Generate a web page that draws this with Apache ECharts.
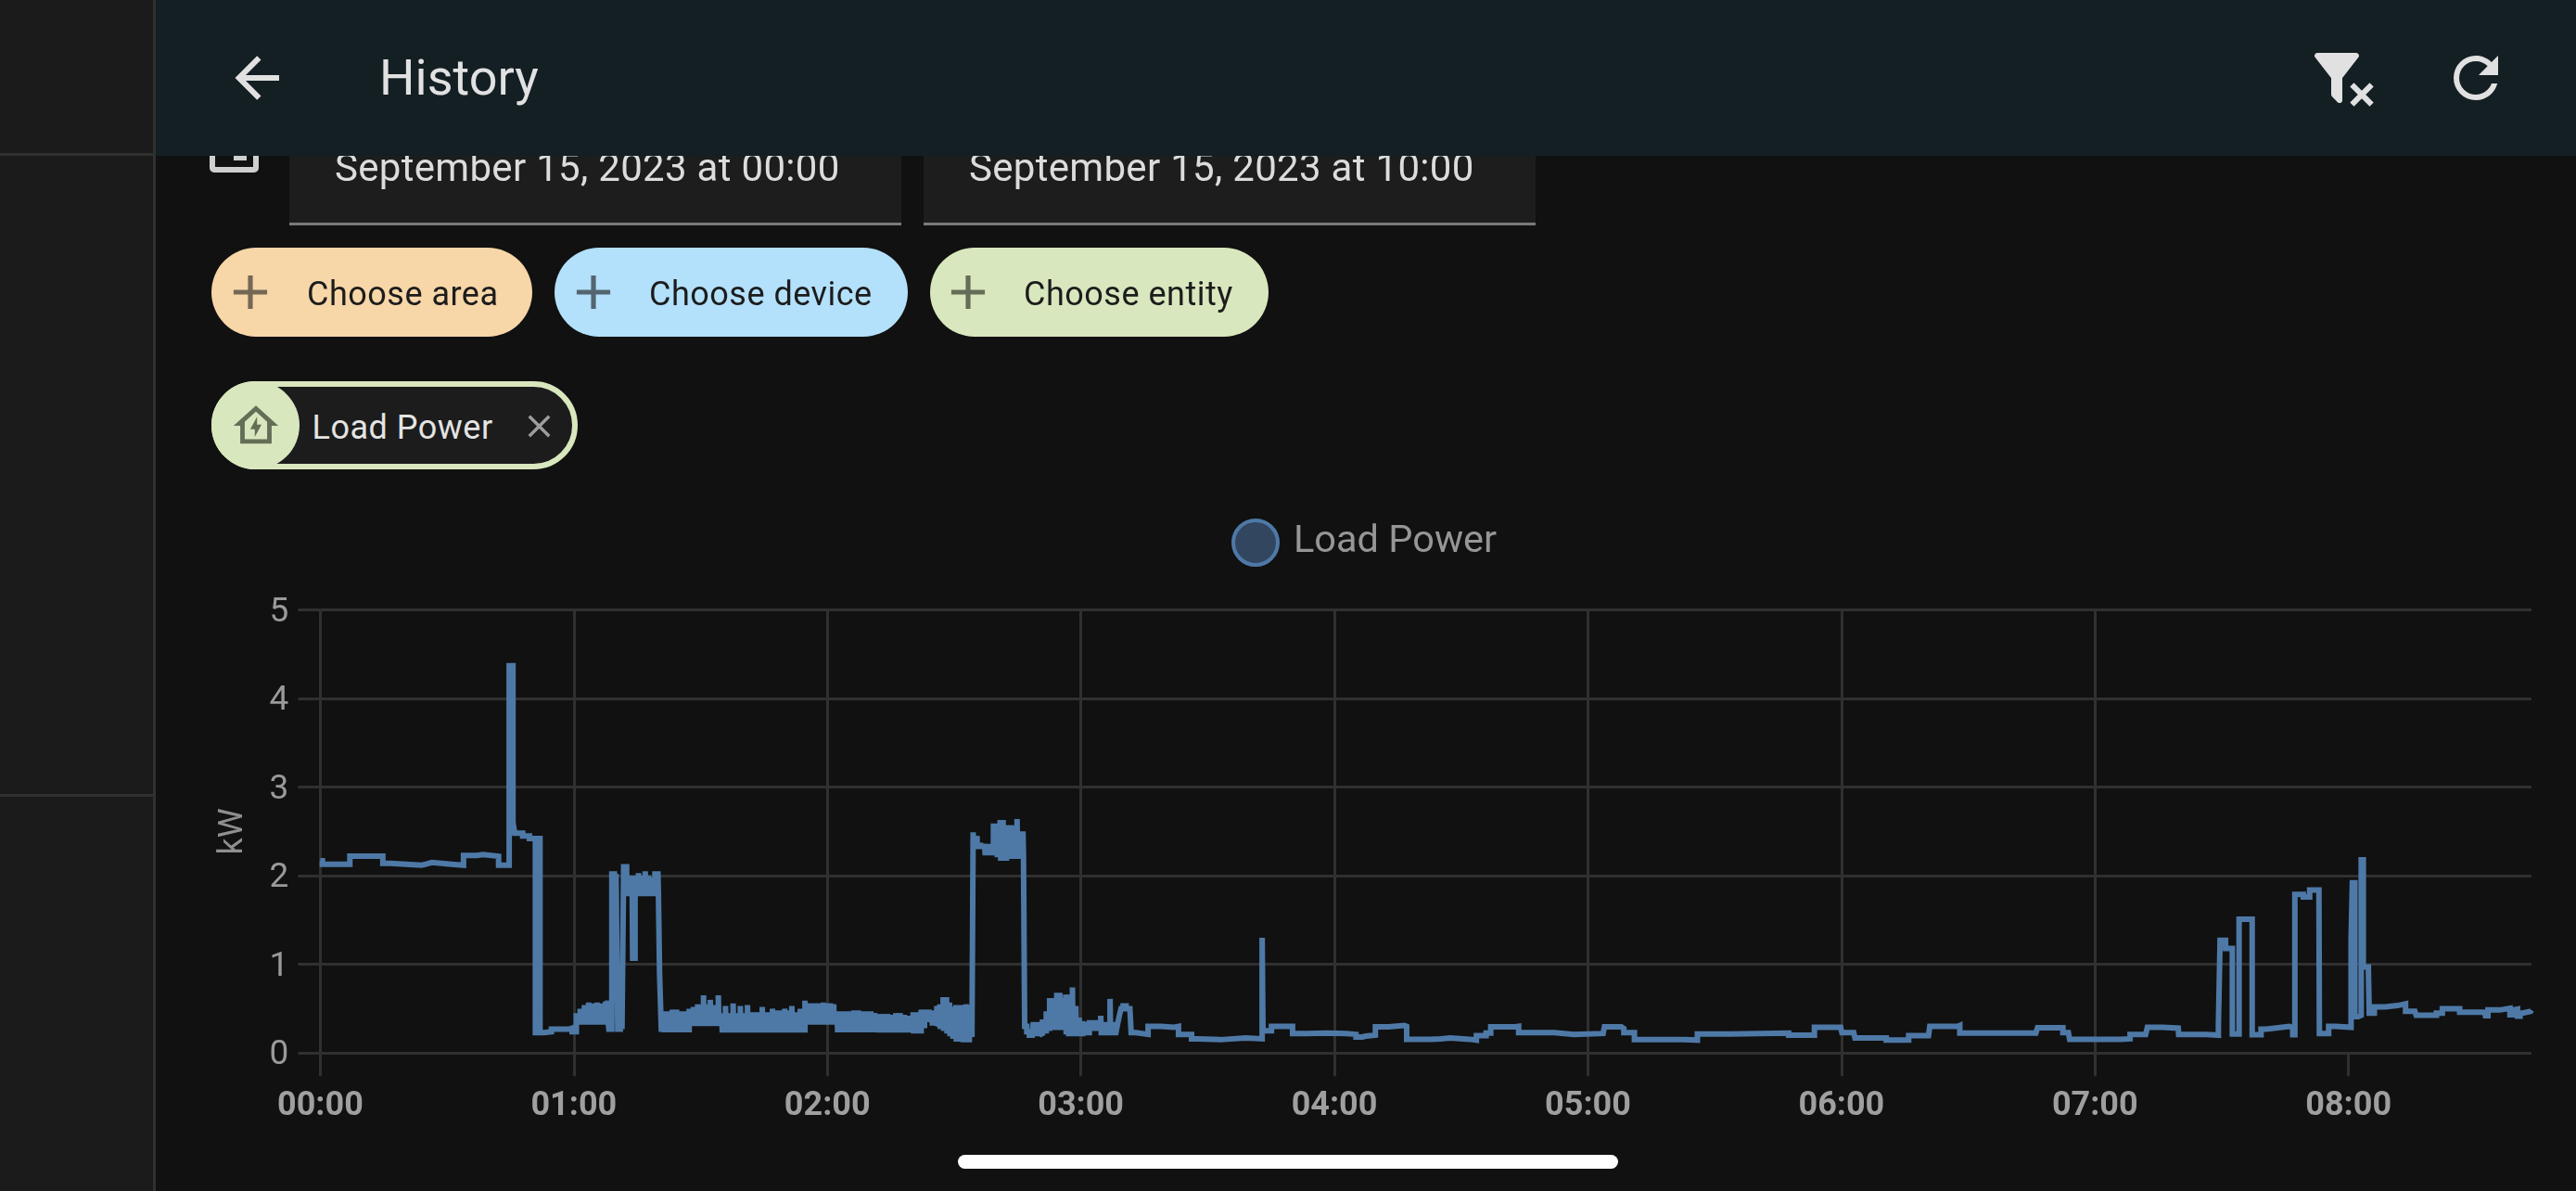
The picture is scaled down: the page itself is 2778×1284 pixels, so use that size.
<!DOCTYPE html>
<html>
<head>
<meta charset="utf-8">
<title>History</title>
<script src="https://cdn.jsdelivr.net/npm/echarts@6/dist/echarts.min.js"></script>
<style>
  html, body { margin: 0; width: 2778px; height: 1284px; overflow: hidden; background: #111111; font-family: Roboto, sans-serif; }
  div, span, svg { position: absolute; }
  span { white-space: nowrap; }
  #chart { left: 0; top: 0; width: 2778px; height: 1284px; }
  #side { left: 0; top: 0; width: 165px; height: 1284px; background: #1b1b1b; border-right: 3px solid #303030; }
  .rule { left: 0; width: 165px; height: 3px; background: #303030; }
  #bar { left: 168px; top: 0; width: 2610px; height: 168px; background: #141f24; }
  .field { top: 100px; height: 140px; background: #1d1d1d; border-bottom: 3px solid #7a7a7a; }
  .date { top: 160px; font-size: 42px; line-height: 42px; color: #dcdcdc; letter-spacing: 0.3px; }
  .chip { top: 267px; height: 96px; border-radius: 48px; }
  .chiptext { top: 298.7px; font-size: 36px; line-height: 36px; color: #1c1c1c; letter-spacing: 0.5px; }
  #bottombar { left: 1033px; top: 1245px; width: 712px; height: 15px; border-radius: 8px; background: #ffffff; }
</style>
</head>
<body>
<div id="chart"></div>

<div id="cal" style="left:226px;top:120px;width:41px;height:54px;border:6px solid #cfcfcf;border-radius:5px"></div>
<div style="left:252px;top:160px;width:14px;height:13px;background:#cfcfcf"></div>
<div class="field" style="left:312px;width:660px"></div>
<div class="field" style="left:996px;width:660px"></div>
<span class="date" style="left:361px">September 15, 2023 at 00:00</span>
<span class="date" style="left:1045px">September 15, 2023 at 10:00</span>

<div id="bar"></div>
<div id="side"></div>
<div class="rule" style="top:165px"></div>
<div class="rule" style="top:856px"></div>
<svg style="left:240.5px;top:48px" width="72" height="72" viewBox="0 0 24 24"><path fill="#e1e1e1" d="M20,11V13H8L13.5,18.5L12.08,19.92L4.16,12L12.08,4.08L13.5,5.5L8,11H20Z"/></svg>
<span style="left:409px;top:57px;font-size:54px;line-height:54px;color:#e1e1e1">History</span>
<svg style="left:2490px;top:48px" width="72" height="72" viewBox="0 0 24 24"><path fill="#e1e1e1" d="M14.76,20.83L17.6,18L14.76,15.17L16.17,13.76L19,16.57L21.83,13.76L23.24,15.17L20.41,18L23.24,20.83L21.83,22.24L19,19.41L16.17,22.24L14.76,20.83M12,12V19.88C12.04,20.18 11.94,20.5 11.71,20.71C11.32,21.1 10.69,21.1 10.3,20.71L8.29,18.7C8.06,18.47 7.96,18.16 8,17.87V12H7.97L2.21,4.62C1.87,4.19 1.95,3.56 2.38,3.22C2.57,3.08 2.78,3 3,3V3H17V3C17.22,3 17.43,3.08 17.62,3.22C18.05,3.56 18.13,4.19 17.79,4.62L12.03,12H12Z"/></svg>
<svg style="left:2634px;top:48px" width="72" height="72" viewBox="0 0 24 24"><path fill="#e1e1e1" d="M17.65,6.35C16.2,4.9 14.21,4 12,4A8,8 0 0,0 4,12A8,8 0 0,0 12,20C15.73,20 18.84,17.45 19.73,14H17.65C16.83,16.33 14.61,18 12,18A6,6 0 0,1 6,12A6,6 0 0,1 12,6C13.66,6 15.14,6.69 16.22,7.78L13,11H20V4L17.65,6.35Z"/></svg>

<div class="chip" style="left:228px;width:346px;background:#f7d6a8"></div>
<div class="chip" style="left:598px;width:381px;background:#b3e0fb"></div>
<div class="chip" style="left:1003px;width:365px;background:#d8e7bd"></div>
<svg style="left:239px;top:284px" width="62" height="62" viewBox="0 0 24 24"><path fill="#746855" d="M19,13H13V19H11V13H5V11H11V5H13V11H19V13Z"/></svg>
<svg style="left:609px;top:284px" width="62" height="62" viewBox="0 0 24 24"><path fill="#55656f" d="M19,13H13V19H11V13H5V11H11V5H13V11H19V13Z"/></svg>
<svg style="left:1013px;top:284px" width="62" height="62" viewBox="0 0 24 24"><path fill="#646d58" d="M19,13H13V19H11V13H5V11H11V5H13V11H19V13Z"/></svg>
<span class="chiptext" style="left:331px">Choose area</span>
<span class="chiptext" style="left:700px">Choose device</span>
<span class="chiptext" style="left:1104px">Choose entity</span>

<div style="left:228px;top:411px;width:383px;height:83px;border:6px solid #d8e7bd;border-radius:48px;background:#1c1c1c"></div>
<div style="left:228px;top:411px;width:95px;height:95px;border-radius:48px;background:#d8e7bd"></div>
<svg style="left:247px;top:430px" width="58" height="58" viewBox="0 0 24 24"><path fill="#636e57" fill-rule="evenodd" d="M12 3L2 12H5V20H19V12H22L12 3M7 18V10.19L12 5.69L17 10.19V18H7ZM12.5 8L9.5 13.5H11.5V17L14.5 11.5H12.5V8Z"/></svg>
<span style="left:336.5px;top:442.7px;font-size:36px;line-height:36px;color:#e4e4e4;letter-spacing:0.5px">Load Power</span>
<svg style="left:561px;top:439px" width="41" height="41" viewBox="0 0 24 24"><path fill="#9d9d9d" d="M19,6.41L17.59,5L12,10.59L6.41,5L5,6.41L10.59,12L5,17.59L6.41,19L12,13.41L17.59,19L19,17.59L13.41,12L19,6.41Z"/></svg>

<div id="bottombar"></div>

<script>
const seriesName = 'Load Power';
const unit = 'kW';
const hourTicks = [0, 60, 120, 180, 240, 300, 360, 420, 480];
const hourLabels = ['00:00', '01:00', '02:00', '03:00', '04:00', '05:00', '06:00', '07:00', '08:00'];
const lastMinute = 523.3;

// stretches where the line is calm
const steadyMin = [
  0, 0.5, 7, 14.8, 16.5, 24, 25, 26.4, 31, 33.9, 37, 38.5, 42.2, 44.7, 45.6, 46, 47.9, 49.5,
  50.9, 51.4, 52, 53, 54.7, 59, 59.6,
  68.3, 69, 69.6, 70, 70.4, 71, 71.4, 71.8,
  80.3, 80.7,
  145.4,
  166.7, 167.2, 167.8, 168.5, 168.7, 169.8, 170.3,
  188.3, 188.7, 189.1, 189.5, 190, 190.7, 191.6, 191.9, 193, 195.9, 199, 202, 203.1, 206.2, 207.7,
  213, 219, 222.9, 223.1, 225.1, 228.9, 230.1, 233.5, 238.2, 242.8, 245.1, 246.6, 247.4, 249.7,
  252.8, 256.6, 257.1, 262.8, 265.1, 267.4, 272, 273.6, 275.9, 277, 282.8, 283.6, 292, 296.7,
  303.6, 303.9, 307.9, 308.5, 310.5, 311, 322.8, 325.9, 333.6, 347.5, 352.9, 353.6, 359.8, 360.1,
  362.9, 363.2, 370.6, 375.9, 380.6, 380.9, 387.5, 388, 406, 406.4, 411.8, 412.4, 413.7, 414,
  426, 428.3, 432, 432.4, 436, 436.4, 439.7, 439.8, 446.3, 446.7, 449.2, 449.6, 450.9, 452.5,
  454.1, 455, 457.2, 459.3, 460.5, 462.4, 466, 466.8, 467.3, 469.3, 470.8, 473, 473.1, 475.3,
  477, 480.6, 480.9, 481.5, 482.3, 483, 483.5, 484.7, 484.9, 486.1, 488.7, 491.6, 493.5, 495.7,
  496, 500.8, 502.2, 506.3, 510.7, 512.1, 512.4, 513, 515.8, 518.2, 518.8, 519.4, 520, 520.6,
  521.2, 521.6, 523.1, 523.3
];
const steadyKw = [
  2.17, 2.13, 2.22, 2.14, 2.12, 2.13, 2.15, 2.13, 2.12, 2.23, 2.24, 2.22, 2.12, 4.37, 2.6, 2.48, 2.45, 2.42,
  0.23, 2.42, 0.23, 0.24, 0.27, 0.28, 0.24,
  0.27, 2.02, 1.8, 2.02, 0.27, 0.48, 0.27, 2.1,
  0.89, 0.27,
  0.33,
  0.3, 0.24, 0.2, 0.22, 0.32, 0.22, 0.2,
  0.25, 0.33, 0.42, 0.5, 0.53, 0.5, 0.49, 0.23, 0.21, 0.3, 0.29, 0.3, 0.21, 0.16, 0.15,
  0.17, 0.16, 1.3, 0.25, 0.3, 0.3, 0.22, 0.225, 0.22, 0.21, 0.18, 0.19, 0.2, 0.295,
  0.31, 0.3, 0.155, 0.16, 0.17, 0.155, 0.145, 0.195, 0.225, 0.295, 0.3, 0.23, 0.21, 0.22,
  0.2, 0.295, 0.275, 0.23, 0.23, 0.15, 0.145, 0.215, 0.225, 0.2, 0.2, 0.29, 0.28, 0.23,
  0.23, 0.17, 0.145, 0.195, 0.215, 0.3, 0.31, 0.225, 0.215, 0.285, 0.285, 0.23, 0.23, 0.155,
  0.16, 0.21, 0.215, 0.29, 0.29, 0.28, 0.28, 0.21, 0.215, 0.2, 0.3, 1.27, 1.18, 0.215,
  1.51, 1.51, 0.205, 0.27, 0.28, 0.3, 0.285, 0.205, 1.79, 1.76, 1.84, 1.85, 0.22, 0.3,
  0.29, 1.27, 1.92, 0.41, 0.425, 2.18, 0.97, 0.94, 0.45, 0.52, 0.535, 0.555, 0.47, 0.47,
  0.425, 0.45, 0.5, 0.46, 0.46, 0.485, 0.42, 0.485, 0.505, 0.43, 0.49, 0.495, 0.415, 0.45,
  0.45, 0.47, 0.485, 0.49
];

// noisy stretches: each reading swings from a high to a low value right away
const burstMin = [
  60.6, 61.5, 62.5, 63.5, 64.5, 65.5, 66.5, 67.5, 68,
  72.5, 73.2, 73.8, 74.5, 75.3, 76.1, 76.9, 77.7, 78.5, 79.2, 79.9,
  81.3, 82.3, 83.3, 84.3, 85.3, 86.3, 87.3, 88.3, 89.3, 90, 90.7, 91.5, 92.3, 93.2, 94.2,
  95, 95.9, 96.8, 97.7, 98.6, 99.4, 100.3, 101.1, 102, 103, 103.8, 104.6, 105.5, 106.3, 107, 108, 109, 109.9, 110.8, 111.6, 112.5, 113.6,
  114.7, 115.5, 116.4, 117.3, 118.2, 119, 119.8, 120.7, 121.5,
  122.3, 123.3, 124.3, 125.3, 126.3, 127.3, 128.3, 129.3, 130.3, 131.2, 132.2, 133.2, 134.2, 135.2, 136.2, 137.2, 138.2, 139.2, 140.3, 141.1,
  142.2, 143, 144, 144.7,
  145.9, 146.6, 147.4, 148.2, 148.9, 149.6, 150.4, 151.2, 152, 152.8, 153.6, 154.1,
  154.5, 155.4, 156.2, 157.2, 158.2, 159.3, 160.1, 160.9, 161.6, 162.4, 163.2, 164.1, 164.9, 165.6, 166.3,
  170.9, 171.8, 172.6, 173.4, 174.3, 175, 175.8, 176.4, 177, 178, 178.8, 179.6, 180.4, 181.2, 182, 182.9, 183.8, 184.7, 185.7, 186.9, 187.7
];
const burstHigh = [
  0.45, 0.5, 0.54, 0.57, 0.56, 0.57, 0.56, 0.58, 0.59,
  2.06, 2, 2, 2, 2.03, 2, 2.05, 2, 1.98, 2.05, 2.05,
  0.47, 0.47, 0.49, 0.49, 0.47, 0.47, 0.5, 0.52, 0.55, 0.54, 0.65, 0.55, 0.6, 0.54, 0.65,
  0.45, 0.53, 0.45, 0.56, 0.45, 0.53, 0.45, 0.54, 0.46, 0.46, 0.46, 0.52, 0.46, 0.46, 0.5, 0.48, 0.48, 0.5, 0.48, 0.53, 0.46, 0.5,
  0.59, 0.56, 0.56, 0.56, 0.56, 0.57, 0.56, 0.56, 0.55,
  0.47, 0.47, 0.47, 0.47, 0.48, 0.48, 0.47, 0.47, 0.47, 0.45, 0.44, 0.44, 0.44, 0.43, 0.45, 0.45, 0.43, 0.42, 0.46, 0.46,
  0.49, 0.49, 0.49, 0.48,
  0.53, 0.55, 0.63, 0.63, 0.57, 0.52, 0.54, 0.54, 0.54, 0.55, 0.54, 0.54,
  2.49, 2.45, 2.37, 2.36, 2.36, 2.59, 2.59, 2.63, 2.63, 2.57, 2.57, 2.57, 2.64, 2.5, 2.5,
  0.38, 0.47, 0.62, 0.62, 0.68, 0.68, 0.62, 0.66, 0.66, 0.74, 0.53, 0.4, 0.36, 0.35, 0.37, 0.37, 0.37, 0.42, 0.35, 0.61, 0.35
];
const burstLow = [
  0.35, 0.35, 0.35, 0.35, 0.35, 0.35, 0.35, 0.35, 0.35,
  1.8, 1.8, 1.07, 1.8, 1.8, 1.8, 1.8, 1.8, 1.8, 1.8, 1.8,
  0.265, 0.265, 0.265, 0.265, 0.265, 0.265, 0.335, 0.335, 0.335, 0.335, 0.335, 0.335, 0.335, 0.335, 0.335,
  0.26, 0.26, 0.26, 0.26, 0.26, 0.26, 0.26, 0.26, 0.26, 0.26, 0.26, 0.26, 0.26, 0.26, 0.26, 0.26, 0.26, 0.26, 0.26, 0.26, 0.26, 0.26,
  0.35, 0.35, 0.35, 0.35, 0.35, 0.35, 0.35, 0.35, 0.35,
  0.265, 0.265, 0.265, 0.265, 0.265, 0.265, 0.265, 0.265, 0.265, 0.265, 0.26, 0.26, 0.26, 0.26, 0.26, 0.26, 0.26, 0.26, 0.25, 0.25,
  0.31, 0.38, 0.38, 0.34,
  0.34, 0.3, 0.28, 0.25, 0.22, 0.19, 0.16, 0.16, 0.15, 0.15, 0.18, 0.18,
  2.33, 2.33, 2.33, 2.26, 2.26, 2.26, 2.24, 2.2, 2.2, 2.22, 2.22, 2.22, 2.22, 2.22, 2.2,
  0.25, 0.28, 0.29, 0.29, 0.29, 0.29, 0.29, 0.24, 0.22, 0.22, 0.22, 0.22, 0.25, 0.23, 0.28, 0.28, 0.28, 0.23, 0.23, 0.28, 0.23
];

const points = steadyMin.map((m, i) => [m, steadyKw[i]]);
burstMin.forEach((m, i) => {
  points.push([m, burstHigh[i]]);
  points.push([m + 0.12, burstLow[i]]);
});
points.sort((a, b) => a[0] - b[0]);

const chart = echarts.init(document.getElementById('chart'));
const gridColor = '#303030';
chart.setOption({
  animation: false,
  backgroundColor: 'transparent',
  textStyle: { fontFamily: 'Roboto' },
  legend: {
    show: true,
    left: 1323,
    top: 554,
    itemWidth: 48,
    itemHeight: 48,
    itemGap: 21,
    icon: 'circle',
    itemStyle: { color: '#33465f', borderColor: '#4e79a7', borderWidth: 4 },
    textStyle: { color: '#969696', fontSize: 41.5, fontFamily: 'Roboto', padding: [0, 0, 0, 12] },
    data: [seriesName]
  },
  grid: { left: 345.4, top: 657.5, width: 2384.6, height: 477.7, containLabel: false },
  xAxis: {
    type: 'value',
    min: 0,
    max: lastMinute,
    interval: 60,
    axisLine: { show: false },
    axisTick: { show: true, length: 25, customValues: hourTicks, lineStyle: { color: gridColor, width: 3 } },
    splitLine: { show: true, showMaxLine: false, lineStyle: { color: gridColor, width: 3 } },
    axisLabel: {
      customValues: hourTicks,
      formatter: (v) => hourLabels[hourTicks.indexOf(v)] || '',
      color: '#9f9f9f',
      fontSize: 36,
      fontWeight: 700,
      fontFamily: 'Roboto',
      margin: 40
    }
  },
  yAxis: {
    type: 'value',
    min: 0,
    max: 5,
    interval: 1,
    name: unit,
    nameLocation: 'middle',
    nameGap: 75,
    nameTextStyle: { color: '#8f8f8f', fontSize: 36, fontFamily: 'Roboto' },
    axisLine: { show: false },
    axisTick: { show: true, length: 24, lineStyle: { color: gridColor, width: 3 } },
    splitLine: { show: true, lineStyle: { color: gridColor, width: 3 } },
    axisLabel: { color: '#9a9a9a', fontSize: 37, fontFamily: 'Roboto', margin: 34, verticalAlign: 'top', padding: [-15.5, 0, 0, 0] }
  },
  series: [{
    name: seriesName,
    type: 'line',
    step: 'end',
    showSymbol: false,
    symbol: 'none',
    sampling: false,
    lineStyle: { color: '#4e79a7', width: 6, join: 'miter', miterLimit: 2, cap: 'butt' },
    itemStyle: { color: '#4e79a7' },
    data: points
  }]
});
</script>
</body>
</html>
